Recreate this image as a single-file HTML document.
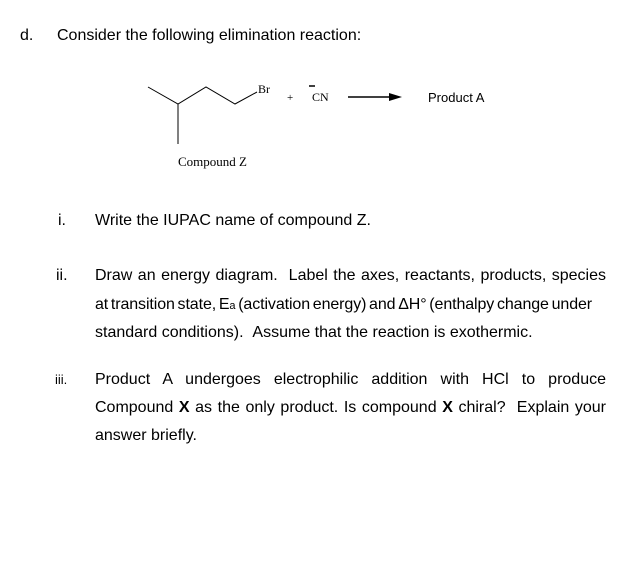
<!DOCTYPE html>
<html><head><style>
body{margin:0;width:630px;height:576px;background:#fff;position:relative;font-family:"Liberation Sans",sans-serif;font-size:16px;color:#000}
.t{position:absolute;white-space:nowrap;line-height:18px}
.j{position:absolute;left:95px;width:511px;text-align:justify;text-align-last:justify;line-height:18px;white-space:nowrap}
</style></head><body>
<div class="t" style="left:20px;top:27px">d.</div>
<div class="t" style="left:57px;top:27px">Consider the following elimination reaction:</div>
<svg width="630" height="200" style="position:absolute;left:0;top:0" font-family="Liberation Serif" font-size="12">
<polyline points="148,87 178,104 206,87 235,104 257,92" fill="none" stroke="#000" stroke-width="1"/>
<line x1="178" y1="104" x2="178" y2="144" stroke="#000"/>
<text x="258" y="93">Br</text>
<text x="287" y="101" font-size="11">+</text>
<line x1="309" y1="86" x2="315" y2="86" stroke="#000" stroke-width="1.5"/>
<text x="312" y="101">CN</text>
<line x1="348" y1="97" x2="392" y2="97" stroke="#000" stroke-width="1.5"/>
<polygon points="402,97 389,93 389,101" fill="#000"/>
<text x="428" y="102" font-family="Liberation Sans" font-size="13">Product A</text>
<text x="178" y="166" font-size="13">Compound Z</text>
</svg>
<div class="t" style="left:58px;top:212px">i.</div>
<div class="t" style="left:95px;top:212px">Write the IUPAC name of compound Z.</div>
<div class="t" style="left:56px;top:267px">ii.</div>
<div class="j" style="top:267px">Draw an energy diagram. &nbsp;Label the axes, reactants, products, species</div>
<div class="t" style="left:95px;top:296px;word-spacing:-1.6px;letter-spacing:-0.1px">at transition state, E<span style="font-size:11px">a</span> (activation energy) and ΔH° (enthalpy change under</div>
<div class="t" style="left:95px;top:324px">standard conditions). &nbsp;Assume that the reaction is exothermic.</div>
<div class="t" style="left:55px;top:371px;font-size:13px">iii.</div>
<div class="j" style="top:371px">Product A undergoes electrophilic addition with HCl to produce</div>
<div class="j" style="top:399px">Compound <b>X</b> as the only product. Is compound <b>X</b> chiral? &nbsp;Explain your</div>
<div class="t" style="left:95px;top:427px">answer briefly.</div>
</body></html>
